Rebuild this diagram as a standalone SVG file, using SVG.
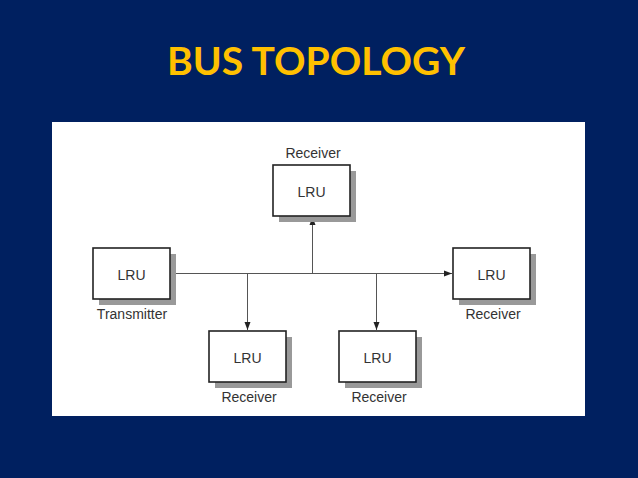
<svg xmlns="http://www.w3.org/2000/svg" width="638" height="478" viewBox="0 0 638 478">
<style>
.box{fill:#fff;stroke:#222;stroke-width:1.6}
.sh{fill:#999}
.t{font-family:"Liberation Sans",Arial,sans-serif;font-size:14px;fill:#333;text-anchor:middle}
.ln{stroke:#555;stroke-width:1;fill:none}
</style>
<defs>
<marker id="ar" viewBox="0 0 8 8" refX="8" refY="4" markerWidth="8" markerHeight="8" markerUnits="userSpaceOnUse" orient="auto">
<path d="M0,1 L8,4 L0,7 Z" fill="#222"/>
</marker>
</defs>
<rect width="638" height="478" fill="#002060"/>
<text x="316" y="75" font-family="Lato,'Open Sans',sans-serif" font-weight="bold" font-size="39" fill="#FFC000" text-anchor="middle" textLength="298" lengthAdjust="spacingAndGlyphs">BUS TOPOLOGY</text>
<rect x="52" y="122" width="533" height="294" fill="#fff"/>
<g id="connectors">
<line class="ln" x1="171" y1="273.5" x2="452" y2="273.5" marker-end="url(#ar)"/>
<line class="ln" x1="312.5" y1="273.5" x2="312.5" y2="217" marker-end="url(#ar)"/>
<line class="ln" x1="247.5" y1="273.5" x2="247.5" y2="330" marker-end="url(#ar)"/>
<line class="ln" x1="376.5" y1="273.5" x2="376.5" y2="330" marker-end="url(#ar)"/>
</g>
<g id="top">
<rect class="sh" x="279" y="171" width="77" height="51"/>
<rect class="box" x="273" y="165" width="77" height="51"/>
<text class="t" x="311.5" y="197">LRU</text>
<text class="t" x="313" y="158">Receiver</text>
</g>
<g id="transmitter">
<rect class="sh" x="99" y="254" width="77" height="51"/>
<rect class="box" x="93" y="248" width="77" height="51"/>
<text class="t" x="131.5" y="280">LRU</text>
<text class="t" x="132" y="318.5">Transmitter</text>
</g>
<g id="right">
<rect class="sh" x="459" y="254" width="77" height="51"/>
<rect class="box" x="453" y="248" width="77" height="51"/>
<text class="t" x="491.5" y="280">LRU</text>
<text class="t" x="493" y="318.5">Receiver</text>
</g>
<g id="bottomLeft">
<rect class="sh" x="215" y="337" width="77" height="51"/>
<rect class="box" x="209" y="331" width="77" height="51"/>
<text class="t" x="247.5" y="363">LRU</text>
<text class="t" x="249" y="401.5">Receiver</text>
</g>
<g id="bottomRight">
<rect class="sh" x="345" y="337" width="77" height="51"/>
<rect class="box" x="339" y="331" width="77" height="51"/>
<text class="t" x="377.5" y="363">LRU</text>
<text class="t" x="379" y="401.5">Receiver</text>
</g>
</svg>
